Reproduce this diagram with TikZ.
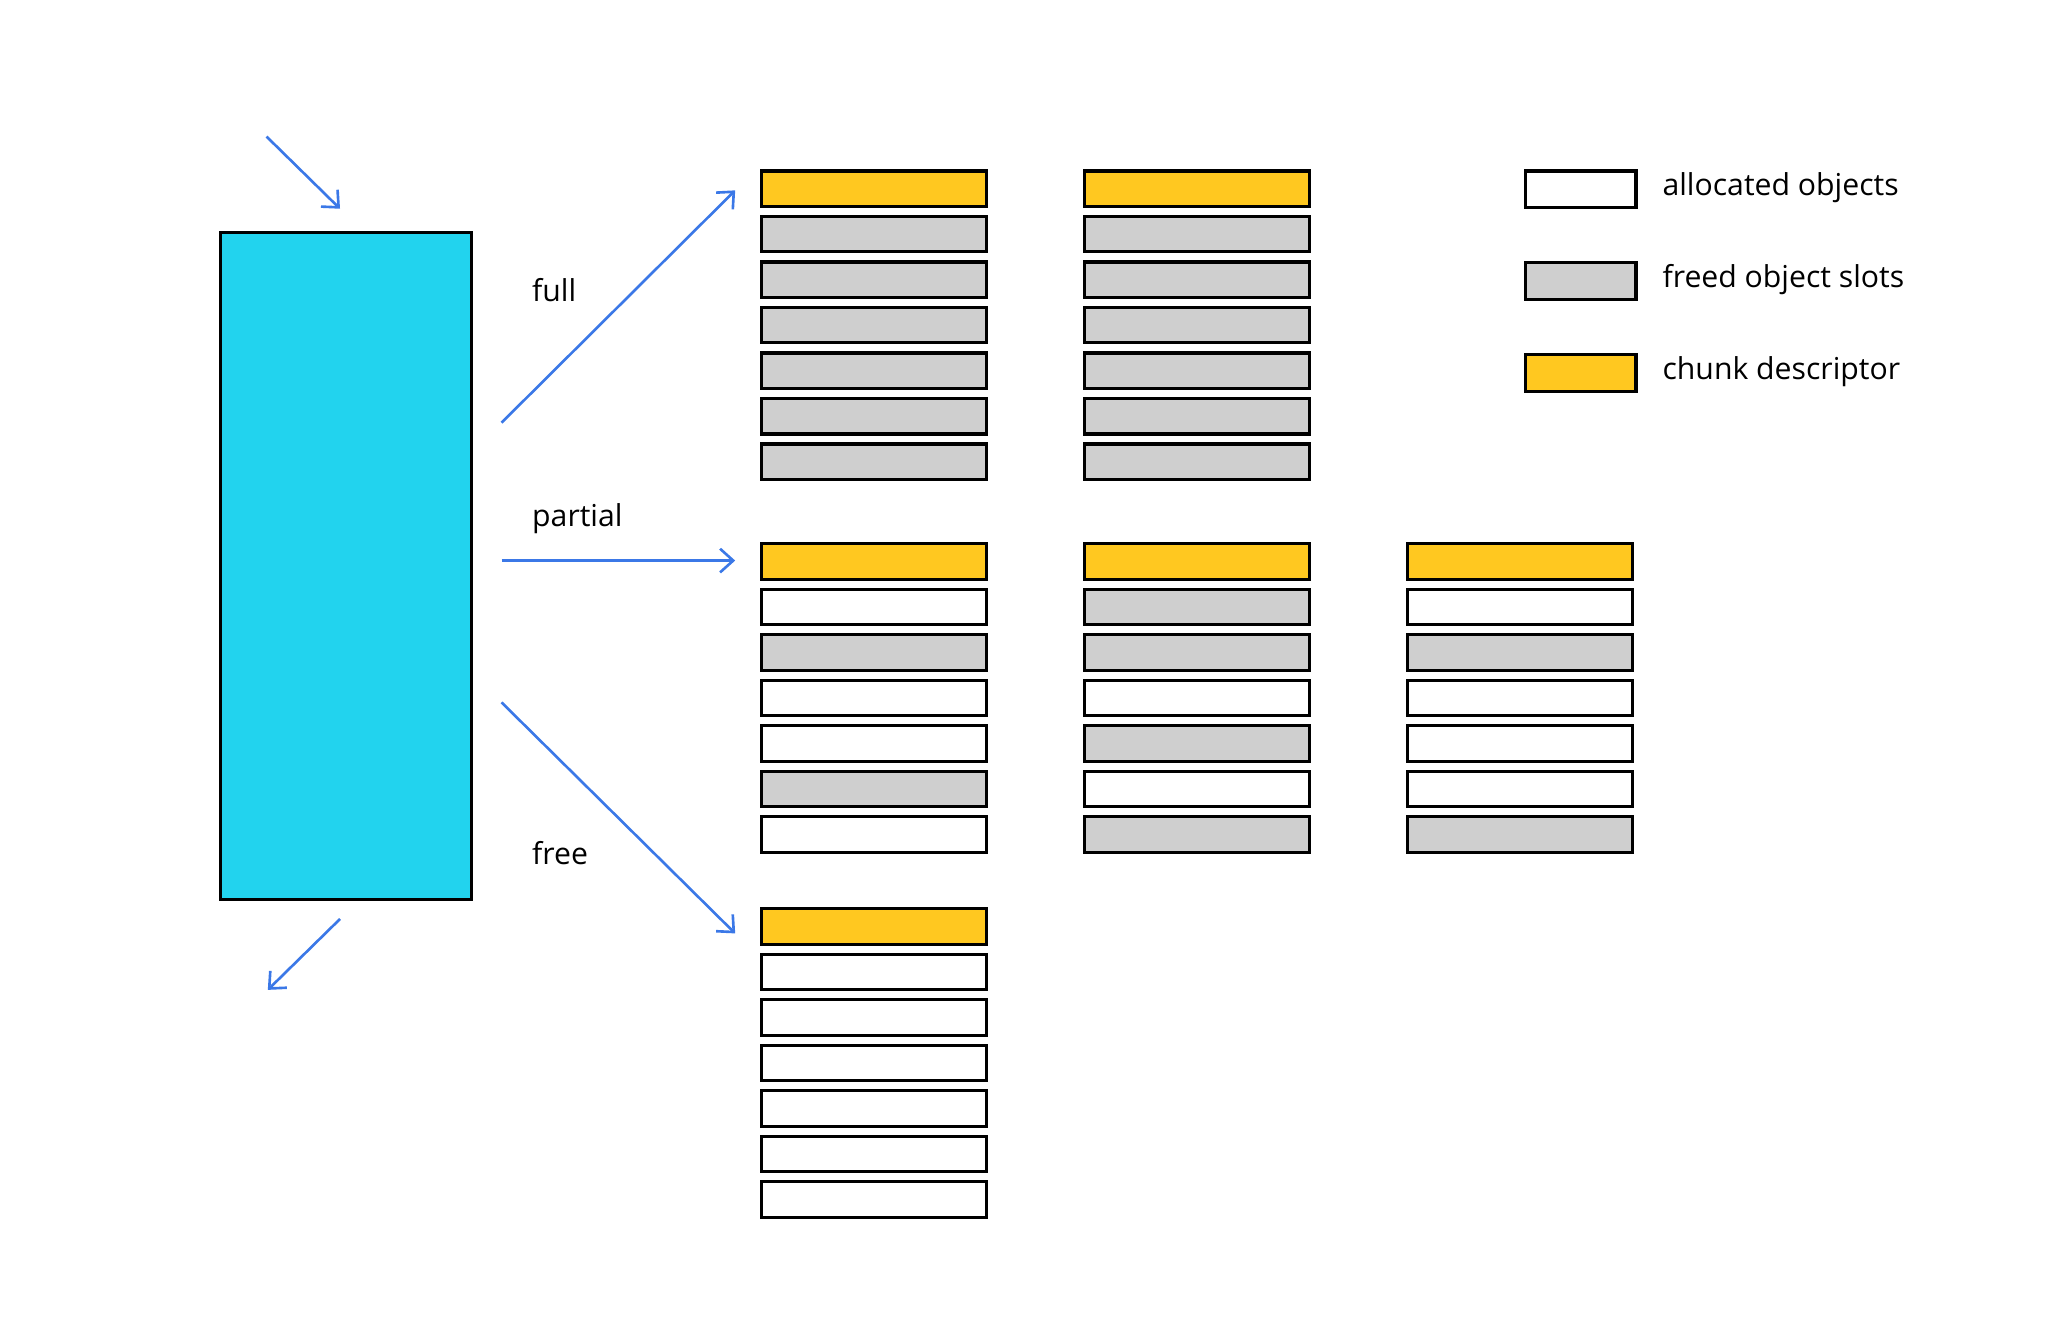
\documentclass[tikz,border=0pt]{standalone}
\usepackage{fontspec}
\setmainfont{Open Sans}
\usetikzlibrary{arrows.meta}
\definecolor{cyanbox}{HTML}{22D3EE}
\definecolor{gold}{HTML}{FFC820}
\definecolor{slot}{HTML}{CFCFCF}
\definecolor{arr}{HTML}{3B78E7}
\tikzset{
 cell/.style={draw=black,line width=1.2pt,minimum width=85.5pt,minimum height=13.5pt,inner sep=0pt,anchor=north west},
 Y/.style={cell,fill=gold}, G/.style={cell,fill=slot}, W/.style={cell,fill=white},
 conn/.style={draw=arr,line width=1pt,-{Straight Barb[length=5pt,width=9pt]}},
 lbl/.style={font=\fontsize{11.5}{13}\selectfont,anchor=west,inner sep=0pt}
}
\begin{document}
\begin{tikzpicture}[x=0.5pt,y=-0.5pt]
\useasboundingbox (0,0) rectangle (1560,1022);
\node[draw=black,line width=1.2pt,fill=cyanbox,minimum width=95.5pt,minimum height=254pt,inner sep=0pt,anchor=north west] (pool) at (167,176) {};
\coordinate (in0) at (203,104); \coordinate (in1) at (259,159);
\coordinate (out0) at (259,700); \coordinate (out1) at (204,754);
\draw[conn] (in0) -- (in1);
\draw[conn] (out0) -- (out1);
\coordinate (fa) at (382,322); \coordinate (fb) at (560,145);
\coordinate (pa) at (382,427); \coordinate (pb) at (560,427);
\coordinate (ra) at (382,535); \coordinate (rb) at (560,711);
\draw[conn] (fa) -- (fb);
\draw[conn] (pa) -- (pb);
\draw[conn] (ra) -- (rb);
\node[lbl] (lfull) at (405,221) {full};
\node[lbl] (lpart) at (405,395) {partial};
\node[lbl] (lfree) at (405,650) {free};
% chunks
\foreach \x/\y/\seq/\id in {579/129/{Y,G,G,G,G,G,G}/a, 825/129/{Y,G,G,G,G,G,G}/b,
  579/413/{Y,W,G,W,W,G,W}/c, 825/413/{Y,G,G,W,G,W,G}/d, 1071/413/{Y,W,G,W,W,W,G}/e,
  579/691/{Y,W,W,W,W,W,W}/f}{
  \foreach \s [count=\i from 0] in \seq {
    \node[\s] (\id\i) at (\x,\y+\i*34.67) {};
  }
}
% legend
\node[W,minimum width=42pt,minimum height=14pt] (k1) at (1161,129) {};
\node[G,minimum width=42pt,minimum height=14pt] (k2) at (1161,199) {};
\node[Y,minimum width=42pt,minimum height=14pt] (k3) at (1161,269) {};
\node[lbl] (t1) at (1266,143) {allocated objects};
\node[lbl] (t2) at (1266,213) {freed object slots};
\node[lbl] (t3) at (1266,283) {chunk descriptor};
\end{tikzpicture}
\end{document}
